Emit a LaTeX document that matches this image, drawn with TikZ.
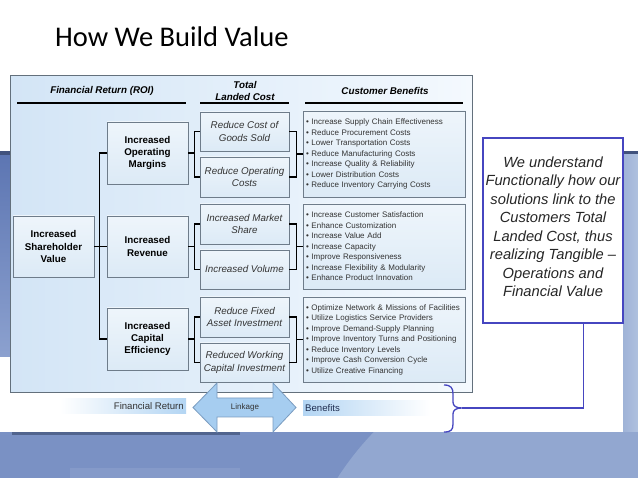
\documentclass[tikz,border=0pt]{standalone}
\usepackage{fontspec}
\setmainfont{Liberation Sans}
\newfontfamily\titlefont{Carlito}
\usetikzlibrary{calc}
\definecolor{boxgray}{HTML}{6E7C8A}
\definecolor{boxtop}{HTML}{EEF5FB}
\definecolor{boxbot}{HTML}{DCEAF6}
\definecolor{mainl}{HTML}{D3E5F6}
\definecolor{mainr}{HTML}{F4F9FE}
\definecolor{txtgray}{HTML}{333333}
\definecolor{callblue}{HTML}{4646C0}
\definecolor{bandtop}{HTML}{5C75B2}
\definecolor{bandbot}{HTML}{8CA1CF}
\definecolor{lowblue}{HTML}{7A91C4}
\definecolor{globe}{HTML}{AFC1DF}
\definecolor{lblue}{HTML}{B3D5F3}
\definecolor{arrowfill}{HTML}{A6CDF0}
\definecolor{arrowdraw}{HTML}{7A9CC0}
\begin{document}
\begin{tikzpicture}[x=1pt,y=-1pt,
  bigbox/.style={draw=boxgray, line width=0.9pt, top color=boxtop, bottom color=boxbot,
    inner sep=0pt, align=center, minimum width=81pt, font=\fontsize{9.8}{12.2}\selectfont\bfseries},
  smallbox/.style={draw=boxgray, line width=0.9pt, top color=boxtop, bottom color=boxbot,
    inner sep=0pt, align=center, minimum width=89pt, text=txtgray, font=\fontsize{9.8}{12.5}\selectfont\itshape},
  benbox/.style={draw=boxgray, line width=0.9pt, top color=boxtop, bottom color=boxbot,
    inner sep=3pt, align=left, text width=156pt, text=txtgray, font=\fontsize{8}{10.5}\selectfont},
  conn/.style={line width=1.8pt, black},
  hline/.style={line width=1.4pt, black},
  hdr/.style={align=center, font=\fontsize{9.8}{12}\selectfont\bfseries\itshape},
  callout/.style={line width=1.3pt, callblue}
]
\useasboundingbox (0,0) rectangle (638,478);
% slide background
\fill[white] (0,0) rectangle (638,478);
\shade[top color=bandtop, bottom color=bandbot] (0,152) rectangle (638,357);
\fill[bandtop!70!black] (0,151) rectangle (638,155);
\fill[lowblue] (0,432) rectangle (638,478);
\begin{scope}
  \clip (0,432) rectangle (638,478);
  \fill[globe!45!lowblue] (590,640) circle (300);
  \fill[lowblue!92!white] (70,468) rectangle (240,478);
\end{scope}
\shade[left color=globe!70!lowblue, right color=globe] (623,155) rectangle (638,432);
% picture panel
\fill[bandtop!60!black, opacity=0.6] (12,432) rectangle (240,435);
\fill[white] (10,70) rectangle (623,432);
% title
\node[anchor=base west, inner sep=0pt, font=\titlefont\fontsize{28.5}{30}\selectfont] (title) at (55,47) {How We Build Value};
% main box
\draw[draw=boxgray!90!black, line width=1pt, left color=mainl, right color=mainr] (10,76) rectangle (472,393);
% headers
\node[hdr] (h1) at (102,91) {Financial Return (ROI)};
\node[hdr] (h2) at (245,91) {Total\\Landed Cost};
\node[hdr] (h3) at (385,91) {Customer Benefits};
\draw[hline] (17,103) -- (186,103);
\draw[hline] (200,103) -- (289,103);
\draw[hline] (305,103) -- (463,103);
% boxes
\node[bigbox, minimum height=61pt] (L) at (53.5,246.5) {Increased\\Shareholder\\Value};
\node[bigbox, minimum height=62pt] (M1) at (147.5,153) {Increased\\Operating\\Margins};
\node[bigbox, minimum height=61pt] (M2) at (147.5,246.5) {Increased\\Revenue};
\node[bigbox, minimum height=62pt] (M3) at (147.5,339) {Increased\\Capital\\Efficiency};
\node[smallbox, minimum height=39pt] (S11) at (244.5,131.5) {Reduce Cost of\\Goods Sold};
\node[smallbox, minimum height=40pt] (S12) at (244.5,177) {Reduce Operating\\Costs};
\node[smallbox, minimum height=40pt] (S21) at (244.5,224) {Increased Market\\Share};
\node[smallbox, minimum height=39pt] (S22) at (244.5,269.5) {Increased Volume};
\node[smallbox, minimum height=40pt] (S31) at (244.5,317) {Reduce Fixed\\Asset Investment};
\node[smallbox, minimum height=39pt] (S32) at (244.5,362.5) {Reduced Working\\Capital Investment};
\node[benbox, minimum height=86pt] (B1) at (384,154) {• Increase Supply Chain Effectiveness\\• Reduce Procurement Costs\\• Lower Transportation Costs\\• Reduce Manufacturing Costs\\• Increase Quality \& Reliability\\• Lower Distribution Costs\\• Reduce Inventory Carrying Costs};
\node[benbox, minimum height=85pt] (B2) at (384,246.5) {• Increase Customer Satisfaction\\• Enhance Customization\\• Increase Value Add\\• Increase Capacity\\• Improve Responsiveness\\• Increase Flexibility \& Modularity\\• Enhance Product Innovation};
\node[benbox, minimum height=85pt] (B3) at (384,339.5) {• Optimize Network \& Missions of Facilities\\• Utilize Logistics Service Providers\\• Improve Demand-Supply Planning\\• Improve Inventory Turns and Positioning\\• Reduce Inventory Levels\\• Improve Cash Conversion Cycle\\• Utilize Creative Financing};
% connectors
\draw[conn] (L.east) -- (M2.west);
\draw[conn] (M1.west) -- ++(-7,0) |- (M3.west);
\foreach \m/\a/\b/\c in {M1/S11/S12/B1, M2/S21/S22/B2, M3/S31/S32/B3}{
  \draw[conn] (\m.east) -- ++(7,0);
  \draw[conn] (\a.west) -- ++(-5,0) |- (\b.west);
  \draw[conn] (\a.east) -- ++(7,0) |- (\b.east);
  \draw[conn] (\c.west) -- ++(-7,0);
}
% bottom strip
\fill[left color=white, right color=lblue] (60,399) rectangle (186,414);
\node[anchor=east, inner sep=0pt, text=txtgray, font=\fontsize{9.6}{11}\selectfont] (fr) at (184,406.5) {Financial Return};
\fill[left color=lblue, right color=white] (303,401) rectangle (430,416);
\node[anchor=west, inner sep=0pt, text={rgb,255:red,30;green,45;blue,80}, font=\fontsize{9.6}{11}\selectfont] (bn) at (305,408.5) {Benefits};
\draw[fill=arrowfill, draw=arrowdraw, line width=0.8pt]
  (193,407.5) -- (217,383) -- (217,398) -- (273,398) -- (273,383) -- (296,407.5)
  -- (273,432) -- (273,417) -- (217,417) -- (217,432) -- cycle;
\node[text=txtgray, font=\fontsize{8}{9}\selectfont] (lk) at (245,407.5) {Linkage};
% callout
\node[draw=callblue, line width=1.3pt, fill=white, minimum width=140pt, minimum height=185pt,
  inner sep=0pt, align=center, text=black!85, font=\fontsize{14.7}{18.5}\selectfont\itshape] (T) at (553,230.5)
  {We understand\\Functionally how our\\solutions link to the\\Customers Total\\Landed Cost, thus\\realizing Tangible –\\Operations and\\Financial Value\\[-10.5pt]\mbox{}};
\coordinate (bt) at (462,408);
\draw[callout] ([xshift=-40pt]T.south east) |- (bt);
\draw[callout] (444,385) .. controls (451,385) and (453,388) .. (453,394) -- (453,402)
  .. controls (453,406) and (456,408) .. (bt)
  .. controls (456,408) and (453,410) .. (453,414) -- (453,424)
  .. controls (453,430) and (451,432) .. (444,432);
\end{tikzpicture}
\end{document}
